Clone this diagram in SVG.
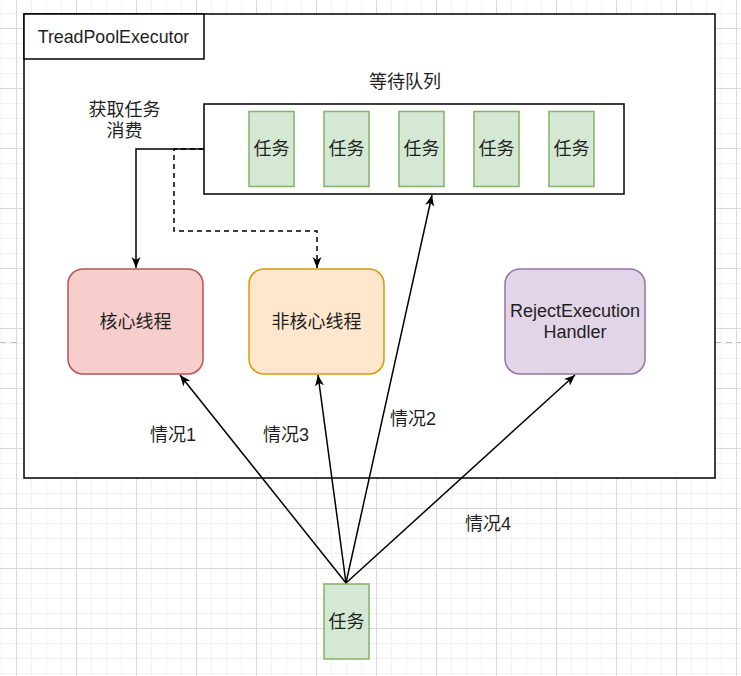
<svg xmlns="http://www.w3.org/2000/svg" width="741" height="676" viewBox="0 0 741 676">
<defs>
<pattern id="grid" patternUnits="userSpaceOnUse" x="16" y="28" width="60" height="60">
<rect x="0" y="0" width="60" height="60" fill="#ffffff"/>
<g fill="#f2f2f2">
<rect x="15" y="0" width="1" height="60"/><rect x="30" y="0" width="1" height="60"/><rect x="45" y="0" width="1" height="60"/>
<rect x="0" y="15" width="60" height="1"/><rect x="0" y="30" width="60" height="1"/><rect x="0" y="45" width="60" height="1"/>
</g>
<g fill="#d9d9d9">
<rect x="0" y="0" width="1" height="60"/><rect x="0" y="0" width="60" height="1"/>
</g>
</pattern>
<marker id="arr" markerUnits="userSpaceOnUse" markerWidth="12" markerHeight="10" refX="11" refY="4.5" orient="auto">
<path d="M0,0 L11,4.5 L0,9 L3,4.5 Z" fill="#000"/>
</marker>
<style>
.t{font-family:"Liberation Sans","Noto Sans CJK SC",sans-serif;font-size:18px;fill:#1f1f1f;text-anchor:middle;dominant-baseline:central}
.task{fill:#d5e8d4;stroke:#82b366;stroke-width:1.5}
.box{fill:#ffffff;stroke:#000;stroke-width:1.5}
.c{fill:none;stroke:#000;stroke-width:1.5}
</style>
</defs>
<rect width="741" height="676" fill="url(#grid)"/>
<line x1="0" y1="342.5" x2="741" y2="342.5" stroke="#bdbdbd" stroke-width="1" stroke-dasharray="6 5"/>

<g id="container">
<rect class="box" x="24" y="14" width="691" height="464"/>
</g>
<g id="title">
<rect class="box" x="24" y="14" width="180" height="45"/>
<text class="t" x="113.5" y="37" style="font-size:17.8px">TreadPoolExecutor</text>
</g>
<g id="queue-label"><text class="t" x="405" y="82">等待队列</text></g>
<g id="consume-label"><text class="t" x="124.5" y="110">获取任务</text><text class="t" x="124.5" y="131">消费</text></g>
<g id="queue">
<rect class="box" x="204" y="104" width="420" height="90"/>
</g>
<g id="task1"><rect class="task" x="249" y="111.5" width="45" height="75"/><text class="t" x="271.5" y="149">任务</text></g>
<g id="task2"><rect class="task" x="324" y="111.5" width="45" height="75"/><text class="t" x="346.5" y="149">任务</text></g>
<g id="task3"><rect class="task" x="399" y="111.5" width="45" height="75"/><text class="t" x="421.5" y="149">任务</text></g>
<g id="task4"><rect class="task" x="474" y="111.5" width="45" height="75"/><text class="t" x="496.5" y="149">任务</text></g>
<g id="task5"><rect class="task" x="549" y="111.5" width="45" height="75"/><text class="t" x="571.5" y="149">任务</text></g>

<g id="core"><rect x="68" y="269" width="135" height="105" rx="15" fill="#f8cecc" stroke="#b85450" stroke-width="1.5"/><text class="t" x="135.5" y="322">核心线程</text></g>
<g id="noncore"><rect x="249" y="269" width="135" height="105" rx="15" fill="#ffe6cc" stroke="#d79b00" stroke-width="1.5"/><text class="t" x="316.5" y="322">非核心线程</text></g>
<g id="reject"><rect x="505" y="269" width="140" height="105" rx="15" fill="#e1d5e7" stroke="#9673a6" stroke-width="1.5"/><text class="t" x="575" y="311">RejectExecution</text><text class="t" x="575" y="332">Handler</text></g>

<g id="newtask"><rect class="task" x="324" y="584" width="45" height="75"/><text class="t" x="346.5" y="621.5">任务</text></g>

<g id="connectors">
<path class="c" d="M204,149 H136 V268" marker-end="url(#arr)"/>
<path class="c" d="M204,149 H174 V231 H317 V268" stroke-dasharray="5 4" marker-end="url(#arr)"/>
<path class="c" d="M346,583 L180,375" marker-end="url(#arr)"/>
<path class="c" d="M346,583 L318,375" marker-end="url(#arr)"/>
<path class="c" d="M346,583 L432,195" marker-end="url(#arr)"/>
<path class="c" d="M346,583 L575,375" marker-end="url(#arr)"/>
</g>
<g id="labels">
<text class="t" x="173" y="435">情况1</text>
<text class="t" x="286" y="435">情况3</text>
<text class="t" x="413" y="419">情况2</text>
<text class="t" x="488" y="524">情况4</text>
</g>
</svg>
